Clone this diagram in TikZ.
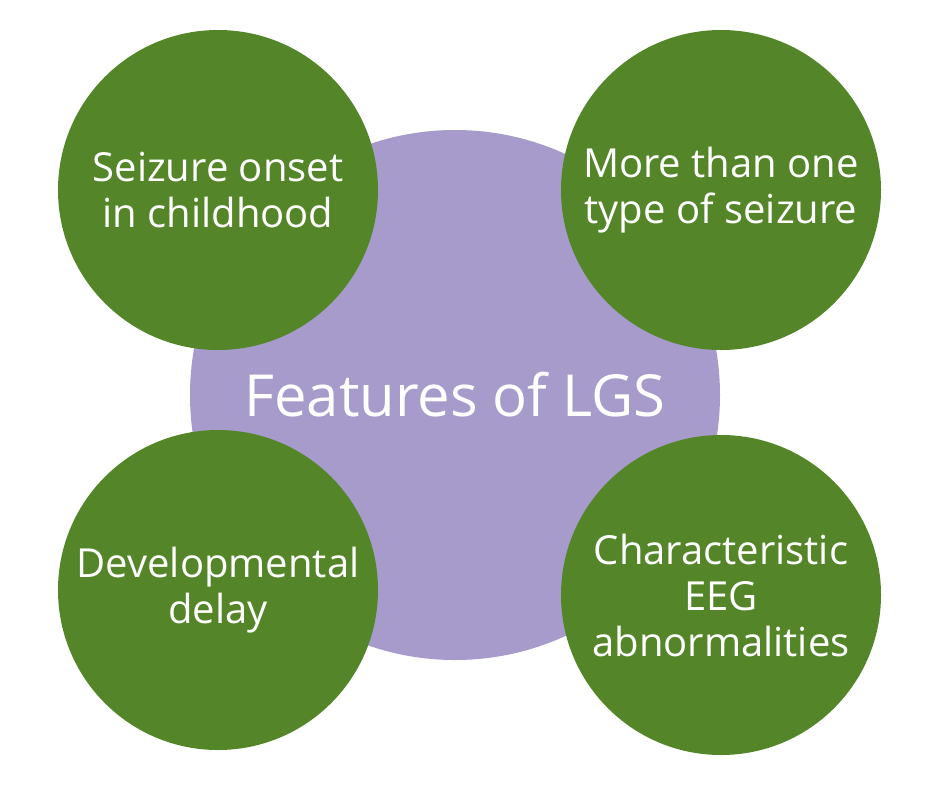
\documentclass[tikz,border=0pt]{standalone}
\usepackage{fontspec}
\setmainfont{Open Sans}
\usetikzlibrary{positioning}
\definecolor{hubpurple}{HTML}{A69BCA}
\definecolor{leafgreen}{HTML}{548629}
\begin{document}
\begin{tikzpicture}[x=1pt, y=-1pt,
  hub/.style={circle, fill=hubpurple, minimum size=530pt, inner sep=0pt, text=white, font=\fontsize{58}{66}\selectfont},
  leaf/.style={circle, fill=leafgreen, minimum size=320pt, inner sep=0pt, text=white, align=center, font=\fontsize{40}{46}\selectfont}
]
  \useasboundingbox (0,0) rectangle (940,788);
  \node[hub] (lgs) at (455,395) {Features of LGS};
  \node[leaf] (onset) at (218,190) {Seizure onset\\in childhood};
  \node[leaf] (types) at (721,190) {More than one\\type of seizure};
  \node[leaf] (delay) at (218,590) {Developmental\\delay};
  \node[leaf] (eeg) at (721,595) {Characteristic\\EEG\\abnormalities};
\end{tikzpicture}
\end{document}
